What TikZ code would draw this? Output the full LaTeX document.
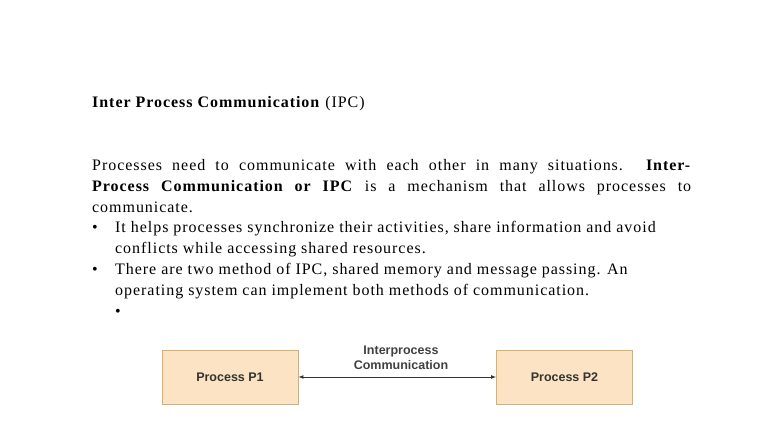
\documentclass[tikz,border=0pt]{standalone}
\usepackage{fontspec}
\setmainfont{Liberation Serif}[LetterSpace=6]
\setsansfont{Liberation Sans}
\definecolor{bfill}{HTML}{FCE3C4}
\definecolor{bdraw}{HTML}{D9AE72}
\begin{document}
\begin{tikzpicture}[x=1pt,y=-1pt,
  txt/.style={anchor=base west,inner sep=0pt,font=\fontsize{16}{19}\selectfont},
  pbox/.style={draw=bdraw,fill=bfill,line width=0.9pt,minimum width=136pt,minimum height=54pt,font=\sffamily\bfseries\fontsize{12.5}{14}\selectfont,text=black!80},
  lbl/.style={font=\sffamily\bfseries\fontsize{12.5}{14.5}\selectfont,text=black!75,align=center}]
\useasboundingbox (0,0) rectangle (784,441);
\node[txt] (t) at (92,108) {\textbf{Inter Process Communication} (IPC)};
\node[txt] (l1) at (92,170) {\makebox[599pt][s]{Processes need to communicate with each other in many situations. \textbf{Inter-}}};
\node[txt] (l2) at (92,191) {\makebox[599pt][s]{\textbf{Process Communication or IPC} is a mechanism that allows processes to}};
\node[txt] (l3) at (92,212) {communicate.};
\node[txt] (b1) at (92,232) {\textbullet};
\node[txt] (l4) at (115,232) {It helps processes synchronize their activities, share information and avoid};
\node[txt] (l5) at (115,253) {conflicts while accessing shared resources.};
\node[txt] (b2) at (92,274) {\textbullet};
\node[txt] (l6) at (115,274) {There are two method of IPC, shared memory and message passing. An};
\node[txt] (l7) at (115,295) {operating system can implement both methods of communication.};
\node[txt] (b3) at (115,316) {\textbullet};
\node[pbox] (p1) at (230,377) {Process P1};
\node[pbox] (p2) at (564.5,377) {Process P2};
\draw[<->,>=latex,black!80,line width=0.7pt] (p1.east) -- (p2.west);
\node[lbl] (il) at (401,358) {Interprocess\\Communication};
\end{tikzpicture}
\end{document}
